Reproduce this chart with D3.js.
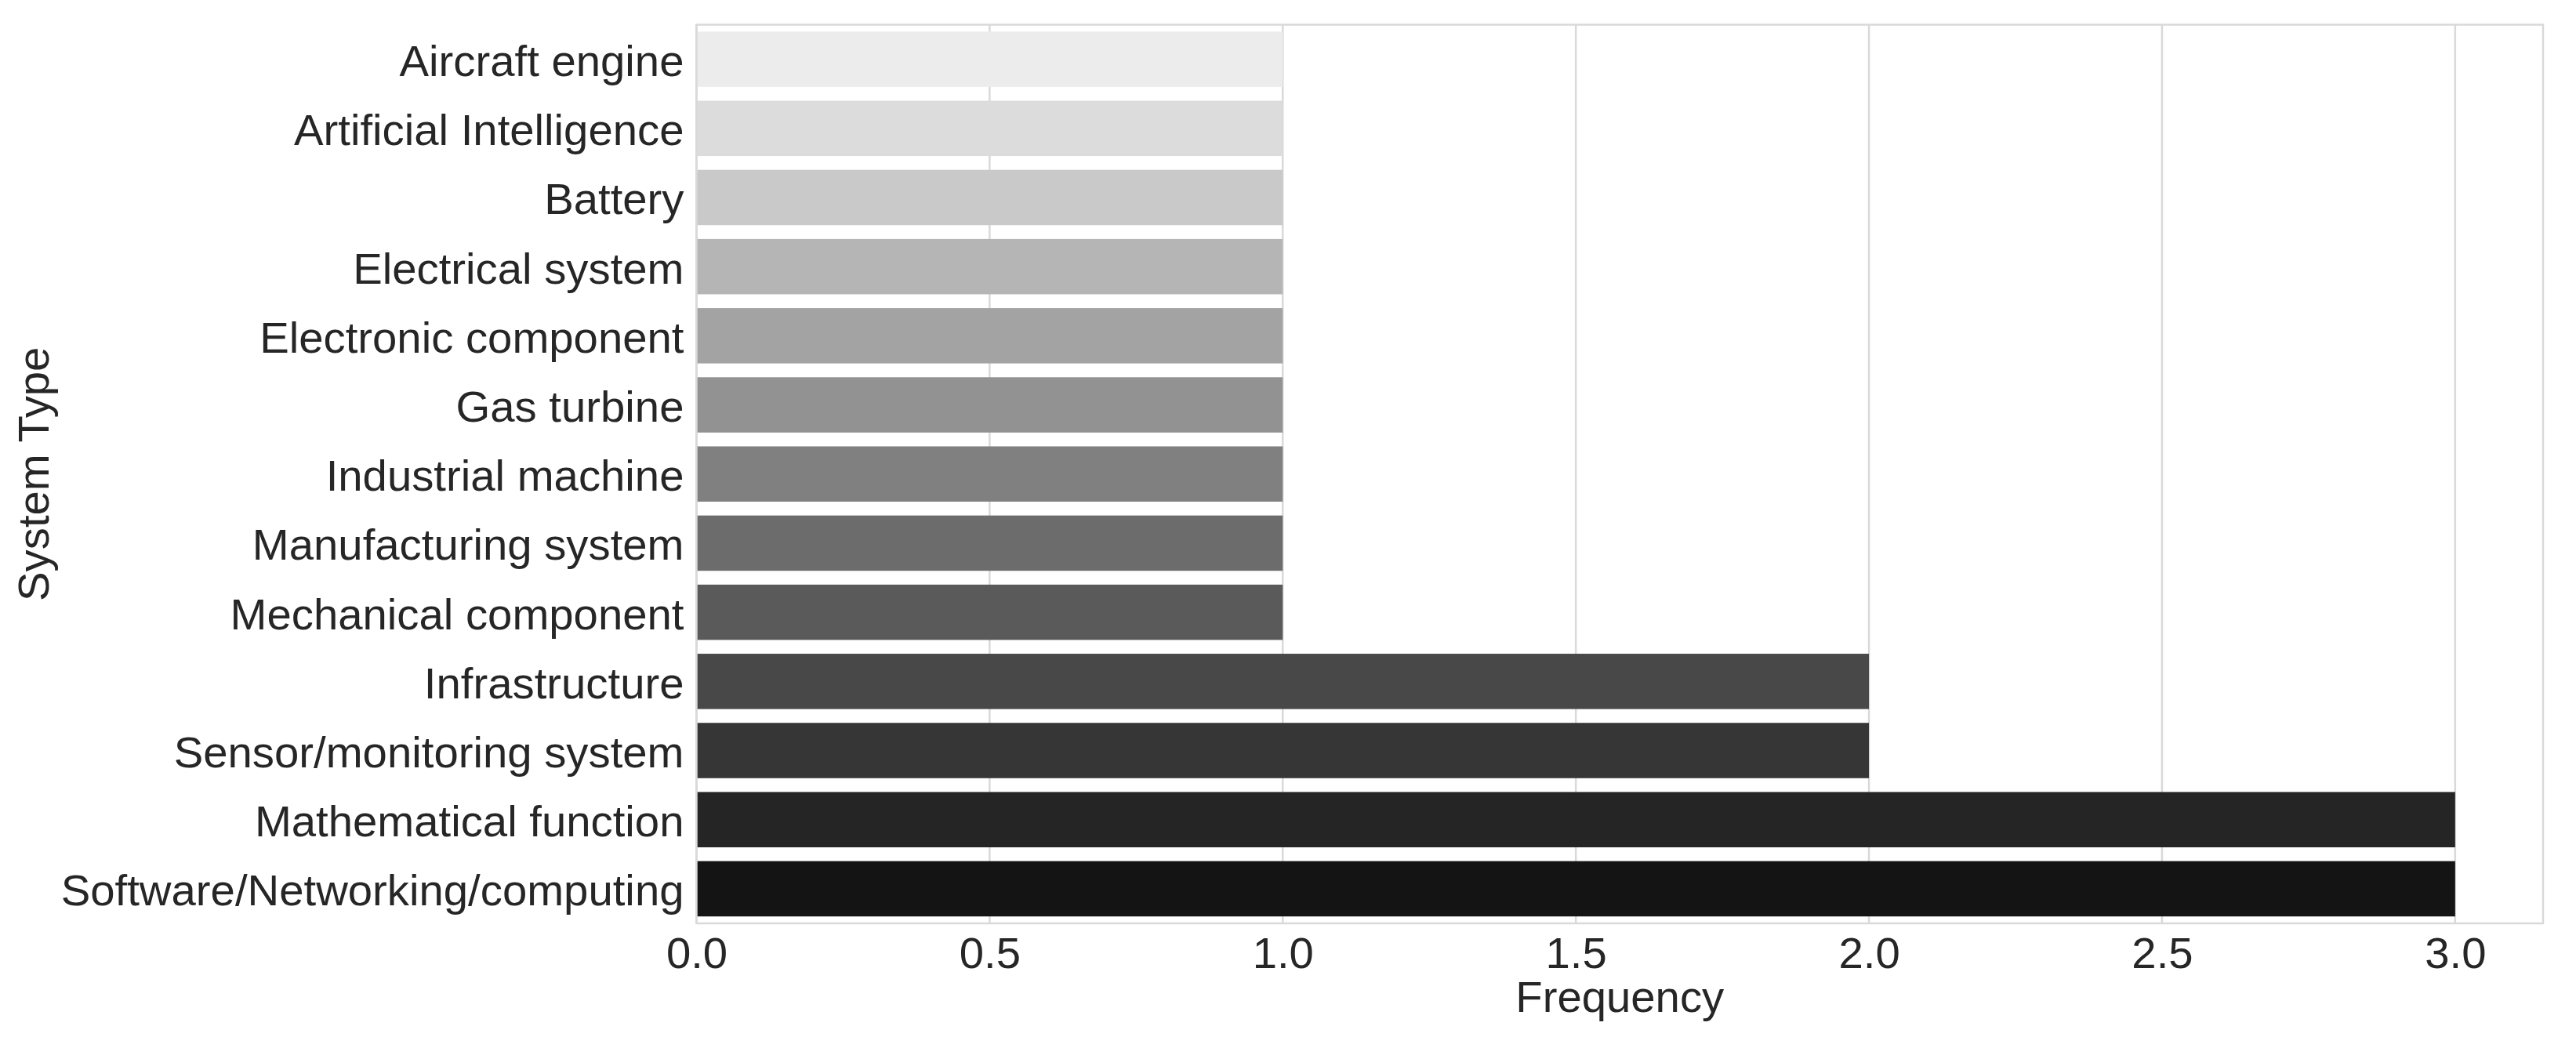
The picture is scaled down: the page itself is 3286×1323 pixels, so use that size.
<!DOCTYPE html>
<html>
<head>
<meta charset="utf-8">
<script src="https://cdn.jsdelivr.net/npm/d3@7"></script>
<style>
  html, body { margin: 0; padding: 0; background: #ffffff; }
  svg { display: block; }
  text { font-family: "Liberation Sans", Arial, sans-serif; fill: #262626; }
</style>
</head>
<body>
<script>
const categories = [
  "Aircraft engine",
  "Artificial Intelligence",
  "Battery",
  "Electrical system",
  "Electronic component",
  "Gas turbine",
  "Industrial machine",
  "Manufacturing system",
  "Mechanical component",
  "Infrastructure",
  "Sensor/monitoring system",
  "Mathematical function",
  "Software/Networking/computing"
];
const frequency = [1, 1, 1, 1, 1, 1, 1, 1, 1, 2, 2, 3, 3];
const xTicks = [0.0, 0.5, 1.0, 1.5, 2.0, 2.5, 3.0];
const barColors = [
  "#ececec", "#dcdcdc", "#c9c9c9", "#b5b5b5", "#a3a3a3", "#929292",
  "#808080", "#6c6c6c", "#5a5a5a", "#484848", "#363636", "#252525", "#141414"
];
const xLabel = "Frequency";
const yLabel = "System Type";

const W = 3286, H = 1323;
const m = { left: 888.5, right: W - 3244, top: 31.5, bottom: H - 1178 };
const pw = W - m.left - m.right, ph = H - m.top - m.bottom;
const FS = 56.3;

const svg = d3.select("body").append("svg").attr("width", W).attr("height", H);
const g = svg.append("g").attr("transform", `translate(${m.left},${m.top})`);

const xMax = d3.max(frequency) * 1.05;
const x = d3.scaleLinear().domain([0, xMax]).range([0, pw]);
const y = d3.scaleBand().domain(categories).range([0, ph]).paddingInner(0.2).paddingOuter(0.1);

const gridColor = "#d9d9d9";

// grid
g.append("g").selectAll("line").data(xTicks).join("line")
  .attr("x1", d => x(d)).attr("x2", d => x(d))
  .attr("y1", 0).attr("y2", ph)
  .attr("stroke", gridColor).attr("stroke-width", 2.5);

// bars
g.append("g").selectAll("rect").data(categories).join("rect")
  .attr("x", x(0))
  .attr("y", d => y(d))
  .attr("width", (d, i) => x(frequency[i]) - x(0))
  .attr("height", y.bandwidth())
  .attr("fill", (d, i) => barColors[i]);

// frame
g.append("rect").attr("x", 0).attr("y", 0).attr("width", pw).attr("height", ph)
  .attr("fill", "none").attr("stroke", gridColor).attr("stroke-width", 2.5);

// x axis
const xAxis = d3.axisBottom(x).tickValues(xTicks).tickFormat(d3.format(".1f")).tickSize(0).tickPadding(17);
const xa = g.append("g").attr("transform", `translate(0,${ph})`).call(xAxis);
xa.select(".domain").remove();
xa.selectAll("text").attr("font-size", FS).style("font-family", '"Liberation Sans", Arial, sans-serif').attr("fill", "#262626");

// y axis
const yAxis = d3.axisLeft(y).tickSize(0).tickPadding(16);
const ya = g.append("g").call(yAxis);
ya.select(".domain").remove();
ya.selectAll("text").attr("font-size", FS).attr("dy", "0.38em").style("font-family", '"Liberation Sans", Arial, sans-serif').attr("fill", "#262626");

// axis labels
svg.append("text")
  .attr("x", m.left + pw / 2).attr("y", 1291)
  .attr("text-anchor", "middle").attr("font-size", FS)
  .text(xLabel);

svg.append("text")
  .attr("transform", `translate(62,${m.top + ph / 2}) rotate(-90)`)
  .attr("text-anchor", "middle").attr("font-size", FS)
  .text(yLabel);
</script>
</body>
</html>
